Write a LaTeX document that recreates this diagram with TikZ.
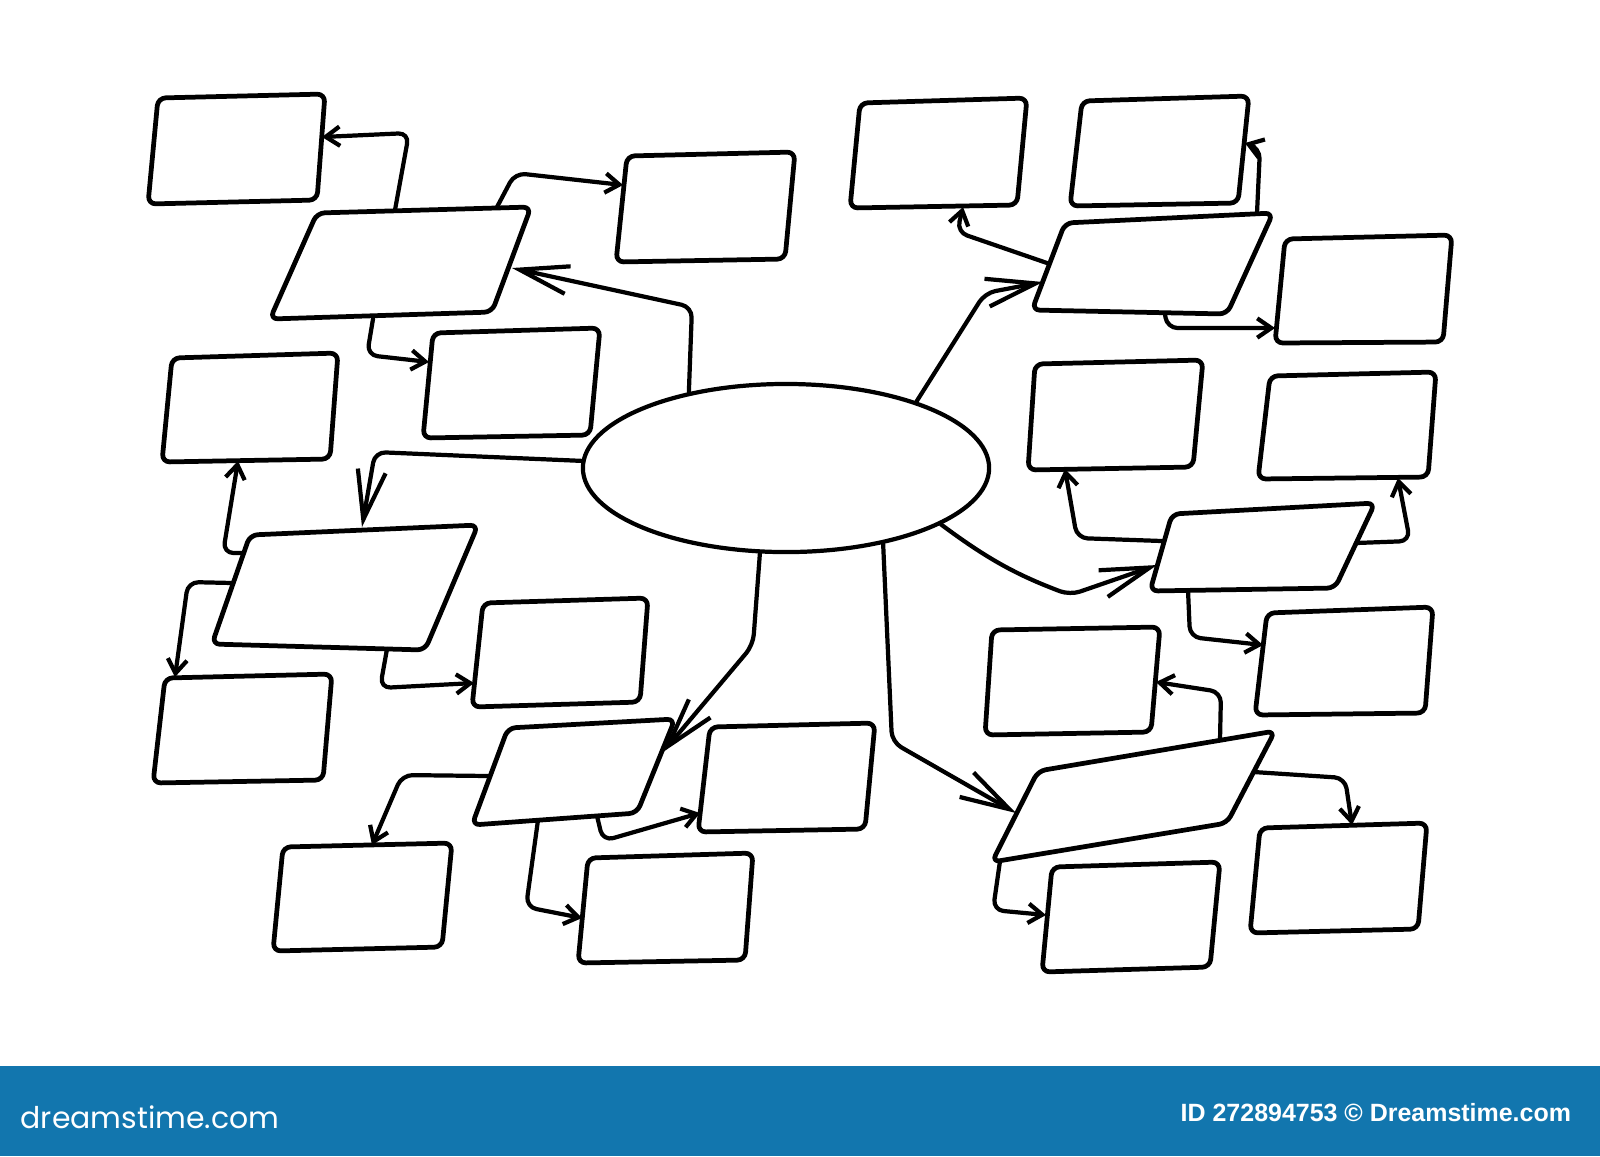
\documentclass[tikz,border=0pt]{standalone}
\usepackage{fontspec}
\newfontfamily\logofont{Poppins}
\newfontfamily\idfont{Liberation Sans}
\usetikzlibrary{arrows.meta,shapes.geometric}
\definecolor{footerblue}{RGB}{18,118,174}
\begin{document}
\begin{tikzpicture}[x=0.01cm,y=-0.01cm,
  box/.style={line width=1.35pt, rounded corners=2.2pt, line join=round},
  conn/.style={line width=1.2pt, rounded corners=3pt, line cap=round, line join=round},
  sarr/.style={conn, -{Straight Barb[length=4pt,width=5.5pt]}},
  barr/.style={conn, -{Straight Barb[length=14pt,width=8pt]}},
  mid/.style={draw, ellipse, line width=1.2pt, minimum width=4.06cm, minimum height=1.68cm, inner sep=0pt}
]
\useasboundingbox (0,0) rectangle (1600,1156);
\fill[white] (0,0) rectangle (1600,1066);
\fill[footerblue] (0,1066) rectangle (1600,1156);

% central ellipse
\node[mid] (E) at (786,468) {};

% rectangles (hand-drawn quadrilaterals)
\draw[box] (158,98) -- (325,94) -- (317,200) -- (148,204) -- cycle;   % A
\draw[box] (172,358) -- (338,353) -- (330,459) -- (162,462) -- cycle; % B
\draw[box] (627,156) -- (795,152) -- (785,259) -- (616,262) -- cycle; % C
\draw[box] (433,333) -- (600,328) -- (590,435) -- (423,438) -- cycle; % D
\draw[box] (165,678) -- (332,674) -- (323,780) -- (153,783) -- cycle; % E
\draw[box] (483,603) -- (648,598) -- (640,702) -- (472,707) -- cycle; % F
\draw[box] (283,847) -- (452,843) -- (442,947) -- (273,951) -- cycle; % G
\draw[box] (588,858) -- (753,853) -- (745,960) -- (578,963) -- cycle; % H
\draw[box] (710,727) -- (875,723) -- (865,829) -- (698,832) -- cycle; % I
\draw[box] (992,630) -- (1160,627) -- (1151,732) -- (985,735) -- cycle; % J
\draw[box] (1260,828) -- (1427,823) -- (1418,929) -- (1250,933) -- cycle; % K
\draw[box] (1052,867) -- (1220,862) -- (1210,967) -- (1042,972) -- cycle; % L
\draw[box] (1267,613) -- (1433,607) -- (1425,713) -- (1255,715) -- cycle; % M
\draw[box] (1035,364) -- (1203,360) -- (1193,467) -- (1028,470) -- cycle; % N
\draw[box] (1270,376) -- (1436,372) -- (1428,477) -- (1258,479) -- cycle; % O
\draw[box] (1082,101) -- (1249,96) -- (1238,203) -- (1070,206) -- cycle; % P
\draw[box] (1285,239) -- (1452,235) -- (1443,342) -- (1275,343) -- cycle; % Q
\draw[box] (860,103) -- (1027,98) -- (1017,205) -- (850,208) -- cycle;   % R

% parallelograms
\draw[box] (317,213) -- (531,207) -- (492,312) -- (270,319) -- cycle;   % P1
\draw[box] (250,535) -- (478,525) -- (425,650) -- (212,644) -- cycle;   % P2
\draw[box] (1065,223) -- (1273,213) -- (1227,314) -- (1032,310) -- cycle; % P3
\draw[box] (508,728) -- (675,719) -- (637,813) -- (472,825) -- cycle;   % P4
\draw[box] (1038,771) -- (1275,731) -- (1227,823) -- (992,862) -- cycle; % P5
\draw[box] (1172,514) -- (1375,503) -- (1335,588) -- (1150,591) -- cycle; % P6

% connector end points
\coordinate (c1s) at (395,210);  \coordinate (c1e) at (322,137);
\coordinate (c2s) at (497,207);  \coordinate (c2e) at (623,185);
\coordinate (c3e) at (512,268);
\coordinate (c4s) at (373,319);  \coordinate (c4e) at (429,362);
\coordinate (c5s) at (244,553);  \coordinate (c5e) at (238,461);
\coordinate (c6e) at (362,527);
\coordinate (c7s) at (233,583);  \coordinate (c7e) at (175,677);
\coordinate (c8s) at (387,649);  \coordinate (c8e) at (474,683);
\coordinate (c9e) at (663,752);
\coordinate (c10s) at (490,776); \coordinate (c10e) at (372,845);
\coordinate (c11s) at (538,820); \coordinate (c11e) at (582,918);
\coordinate (c12s) at (597,816); \coordinate (c12e) at (700,813);
\coordinate (c13e) at (1016,813);
\coordinate (c14s) at (1220,740); \coordinate (c14e) at (1156,682);
\coordinate (c15s) at (1254,772); \coordinate (c15e) at (1352,825);
\coordinate (c16s) at (1000,861); \coordinate (c16e) at (1046,915);
\coordinate (c17e) at (1157,565);
\coordinate (c18s) at (1188,590); \coordinate (c18e) at (1263,645);
\coordinate (c19s) at (1162,541); \coordinate (c19e) at (1065,469);
\coordinate (c20s) at (1356,543); \coordinate (c20e) at (1398,478);
\coordinate (c21e) at (1043,282);
\coordinate (c22s) at (1257,213); \coordinate (c22e) at (1245,143);
\coordinate (c23s) at (1165,314); \coordinate (c23e) at (1275,328);
\coordinate (c24s) at (1047,263); \coordinate (c24e) at (963,207);

% connectors
\draw[sarr] (c1s) -- (409,133) -- (c1e);
\draw[sarr] (c2s) -- (515,173) -- (c2e);
\draw[barr] (E.142) -- (692,307) -- (c3e);
\draw[sarr] (c4s) -- (367,355) -- (c4e);
\draw[sarr] (c5s) -- (223,553) -- (c5e);
\draw[barr] (E.178) -- (375,452) -- (c6e);
\draw[sarr] (c7s) -- (188,582) -- (c7e);
\draw[sarr] (c8s) -- (380,688) -- (c8e);
\draw[barr] (E.253) -- (753,645) -- (c9e);
\draw[sarr] (c10s) -- (402,775) -- (c10e);
\draw[sarr] (c11s) -- (526,907) -- (c11e);
\draw[sarr] (c12s) -- (603,841) -- (c12e);
\draw[barr] (E.322) -- (892,742) -- (c13e);
\draw[sarr] (c14s) -- (1221,692) -- (c14e);
\draw[sarr] (c15s) -- (1345,778) -- (c15e);
\draw[sarr] (c16s) -- (993,910) -- (c16e);
\draw[barr] (E.340) to[bend right=8] (1070,595) -- (c17e);
\draw[sarr] (c18s) -- (1190,637) -- (c18e);
\draw[sarr] (c19s) -- (1077,538) -- (c19e);
\draw[sarr] (c20s) -- (1410,541) -- (c20e);
\draw[barr] (E.27) -- (985,293) -- (c21e);
\draw[sarr] (c22s) -- (1260,148) -- (c22e);
\draw[sarr] (c23s) -- (1167,328) -- (c23e);
\draw[sarr] (c24s) -- (957,232) -- (c24e);

% footer
\node[anchor=base west, text=white, inner sep=0pt, font=\logofont\fontsize{8.5}{10}\selectfont] (logo) at (20,1128) {dreamstime.com};
\node[anchor=base west, text=white, inner sep=0pt, font=\idfont\bfseries\fontsize{7.1}{9}\selectfont] (idtext) at (1180,1121) {ID 272894753 © Dreamstime.com};
\end{tikzpicture}
\end{document}
